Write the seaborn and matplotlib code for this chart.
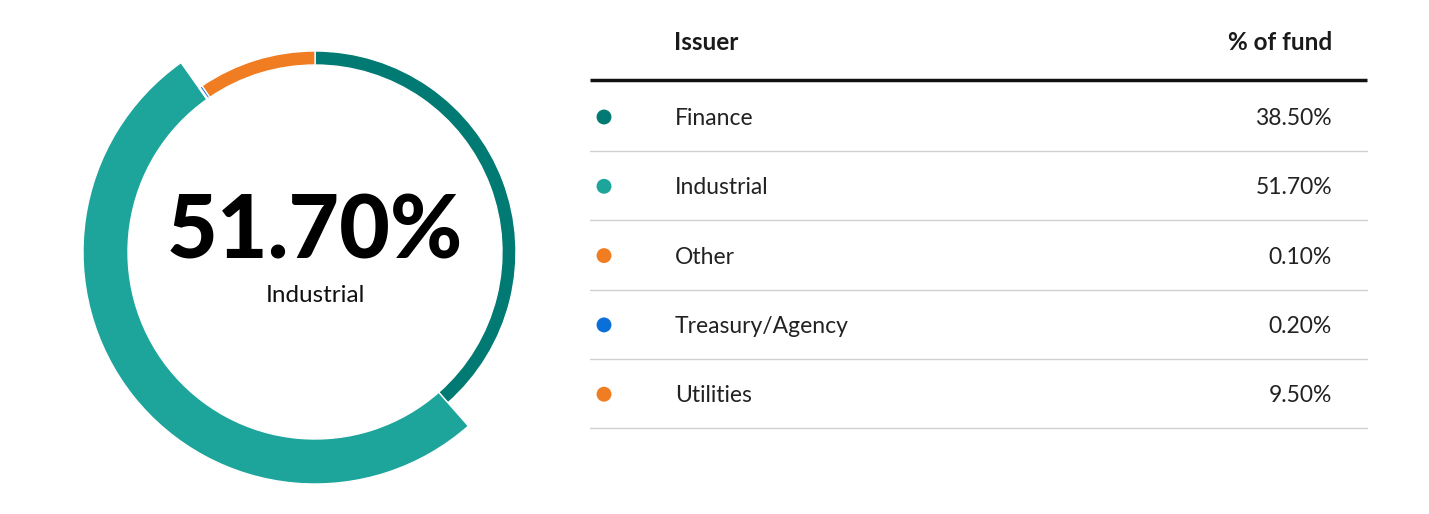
import matplotlib.pyplot as plt
import seaborn as sns
import pandas as pd

sns.set_theme(style="white")
plt.rcParams["font.family"] = ["Lato", "DejaVu Sans"]

issuers = ["Finance", "Industrial", "Other", "Treasury/Agency", "Utilities"]
shares = [38.50, 51.70, 0.10, 0.20, 9.50]
colors = ["#007a72", "#1da59b", "#f07d22", "#0a6fd9", "#f07d22"]
highlight = "Industrial"

W, H = 1429, 514
fig = plt.figure(figsize=(W / 100, H / 100), dpi=100)

# table axes, in pixel units
ax_t = fig.add_axes([0, 0, 1, 1])
ax_t.set_xlim(0, W)
ax_t.set_ylim(H, 0)
ax_t.axis("off")

row_y = [117 + 69.3 * i for i in range(len(issuers))]
ax_t.text(674, 42, "Issuer", fontsize=17.5, fontweight="bold", va="center", color="#1a1a1a")
ax_t.text(1332, 42, "% of fund", fontsize=17.5, fontweight="bold", va="center", ha="right", color="#1a1a1a")
ax_t.plot([590, 1367], [80, 80], color="#111111", lw=2.5, solid_capstyle="butt")

df = pd.DataFrame({"issuer": issuers, "share": shares, "y": row_y, "x": 604})
sns.scatterplot(data=df, x="x", y="y", hue="issuer", palette=colors, s=115,
                edgecolor="none", legend=False, ax=ax_t)
ax_t.set_xlim(0, W)
ax_t.set_ylim(H, 0)
for name, val, y in zip(issuers, shares, row_y):
    ax_t.text(675, y + 1.5, name, fontsize=16.5, va="center", color="#222222")
    ax_t.text(1332, y + 1.5, f"{val:.2f}%", fontsize=16.5, va="center", ha="right", color="#222222")
    ax_t.plot([590, 1367], [y + 34, y + 34], color="#d0d0d0", lw=1)

# donut axes, also in pixel units centred on the ring
cx, cy, half = 315, 252, 250
ax_d = fig.add_axes([(cx - half) / W, (H - cy - half) / H, 2 * half / W, 2 * half / H])
ax_d.set_xlim(-half, half)
ax_d.set_ylim(-half, half)
ax_d.set_aspect("equal")
ax_d.axis("off")

wedges, _ = ax_d.pie(shares, colors=colors, radius=201, startangle=90, counterclock=False,
                     wedgeprops=dict(width=14, edgecolor="white", linewidth=1))
for w, name in zip(wedges, issuers):
    if name == highlight:
        w.set_radius(232)
        w.set_width(45)
ax_d.set_xlim(-half, half)
ax_d.set_ylim(-half, half)

hi = issuers.index(highlight)
ax_d.text(0, 19, f"{shares[hi]:.2f}%", fontsize=63, fontweight="black", ha="center", va="center", color="black")
ax_d.text(0, -43, highlight, fontsize=17.5, ha="center", va="center", color="#111111")

fig.savefig("out.png", dpi=100)
